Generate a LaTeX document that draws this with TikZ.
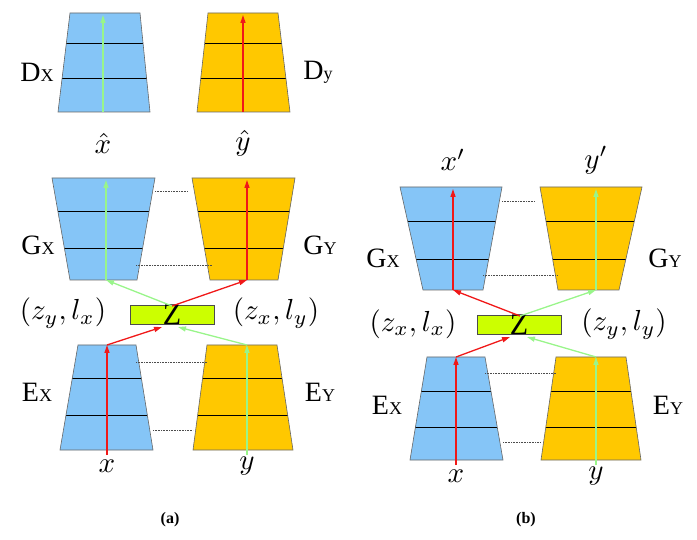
\documentclass[tikz,border=0pt]{standalone}
\usepackage{fontspec}
\usepackage{graphicx}
\setmainfont{Liberation Serif}
\usetikzlibrary{arrows.meta}
\definecolor{bl}{HTML}{85C5F7}
\definecolor{or}{HTML}{FFC800}
\definecolor{gr}{HTML}{99F58A}
\definecolor{rd}{HTML}{F01818}
\definecolor{zb}{HTML}{CCFF00}
\tikzset{
 blk/.style={draw=black!60,line width=0.6pt},
 lay/.style={black,line width=0.8pt},
 dots/.style={densely dotted,black!70,line width=0.6pt},
 ra/.style={rd,line width=1.3pt,-{Triangle[length=8pt,width=5pt]}},
 ga/.style={gr,line width=1.3pt,-{Triangle[length=8pt,width=5pt]}},
 lab/.style={font=\fontsize{28}{30}\selectfont,inner sep=0pt},
 mth/.style={inner sep=0pt},
}
\newcommand{\sub}[2]{#1{\fontsize{18}{18}\selectfont #2}}
\newcommand{\mybigmath}[1]{\scalebox{2.9}{$#1$}}
\newcommand{\trap}[9]{%
 \fill[#1] (#3,#2)--(#4,#2)--(#7,#5)--(#6,#5)--cycle;
 \draw[lay] ({#3+(#6-#3)*(#8-#2)/(#5-#2)},#8)--({#4+(#7-#4)*(#8-#2)/(#5-#2)},#8);
 \draw[lay] ({#3+(#6-#3)*(#9-#2)/(#5-#2)},#9)--({#4+(#7-#4)*(#9-#2)/(#5-#2)},#9);
 \draw[blk] (#3,#2)--(#4,#2)--(#7,#5)--(#6,#5)--cycle;}
\begin{document}
\begin{tikzpicture}[x=1pt,y=-1pt]
\useasboundingbox (0,0) rectangle (697,540);
% ---------- (a)
\trap{bl}{13}{70}{140}{112}{58}{150}{43}{78}
\trap{or}{13}{208}{278}{112}{197}{290}{43}{78}
\draw[ga] (103,112)--(103,15); \draw[ra] (243,112)--(243,15);
\node[lab] (Dx) at (37,72) {\sub{D}{X}};
\node[lab] (Dy) at (318,72) {\sub{D}{y}};
\node[mth] (xh) at (103,143) {\mybigmath{\hat{x}}};
\node[mth] (yh) at (243,143) {\mybigmath{\hat{y}}};
\trap{bl}{178}{52}{155}{280}{70}{137}{211}{248}
\trap{or}{178}{192}{295}{280}{210}{278}{211}{248}
\draw[dots] (155,191)--(188,191); \draw[dots] (136,265)--(212,265);
\node[lab] (Gx) at (38,245) {\sub{G}{X}};
\node[lab] (Gy) at (320,245) {\sub{G}{Y}};
\trap{bl}{345}{78}{136}{450}{60}{153}{378}{415}
\trap{or}{345}{207}{277}{450}{193}{293}{378}{415}
\draw[dots] (136,362)--(207,362); \draw[dots] (153,430)--(193,430);
\node[lab] (Ex) at (37,392) {\sub{E}{X}};
\node[lab] (Ey) at (320,392) {\sub{E}{Y}};
\node[draw=black!70,fill=zb,minimum width=84pt,minimum height=19pt,inner sep=0pt] (za) at (172,315) {};
\node[font=\fontsize{30}{30}\selectfont] at (za) {Z};
\node[mth] (zl1) at (63,313) {\mybigmath{(z_y,l_x)}};
\node[mth] (zl2) at (276,313) {\mybigmath{(z_x,l_y)}};
\node[mth] (xa) at (107,466) {\mybigmath{x}};
\node[mth] (ya) at (247,466) {\mybigmath{y}};
\node[font=\bfseries\fontsize{16}{16}\selectfont] (capa) at (170,520) {(a)};
\draw[ra] (107,455)--(107,345); \draw[ra] (107,345)--(162,327);
\draw[ra] (172,306)--(247,280); \draw[ra] (247,280)--(247,180);
\draw[ga] (247,455)--(247,345); \draw[ga] (247,345)--(178,327);
\draw[ga] (172,306)--(106,280); \draw[ga] (106,280)--(106,180);
% ---------- (b)
\trap{bl}{187}{400}{502}{290}{423}{483}{221}{259}
\trap{or}{187}{540}{642}{290}{558}{619}{221}{259}
\draw[dots] (502,201)--(535,201); \draw[dots] (483,275)--(558,275);
\node[lab] (Gxb) at (383,258) {\sub{G}{X}};
\node[lab] (Gyb) at (665,258) {\sub{G}{Y}};
\trap{bl}{357}{427}{485}{460}{410}{503}{391}{427}
\trap{or}{357}{556}{626}{460}{541}{641}{391}{427}
\draw[dots] (485,373)--(556,373); \draw[dots] (503,442)--(541,442);
\node[lab] (Exb) at (387,405) {\sub{E}{X}};
\node[lab] (Eyb) at (668,405) {\sub{E}{Y}};
\node[draw=black!70,fill=zb,minimum width=84pt,minimum height=19pt,inner sep=0pt] (zb) at (519,325) {};
\node[font=\fontsize{30}{30}\selectfont] at (zb) {Z};
\node[mth] (zl3) at (413,324) {\mybigmath{(z_x,l_x)}};
\node[mth] (zl4) at (624,324) {\mybigmath{(z_y,l_y)}};
\node[mth] (xb) at (456,476) {\mybigmath{x}};
\node[mth] (yb) at (596,476) {\mybigmath{y}};
\node[mth] (xp) at (453,160) {\mybigmath{x'}};
\node[mth] (yp) at (596,160) {\mybigmath{y'}};
\node[font=\bfseries\fontsize{16}{16}\selectfont] (capb) at (526,520) {(b)};
\draw[ra] (456,465)--(456,357); \draw[ra] (456,357)--(510,337);
\draw[ra] (520,316)--(453,290); \draw[ra] (453,290)--(453,189);
\draw[ga] (596,465)--(596,357); \draw[ga] (596,357)--(527,337);
\draw[ga] (520,316)--(596,290); \draw[ga] (596,290)--(596,189);
\end{tikzpicture}
\end{document}
